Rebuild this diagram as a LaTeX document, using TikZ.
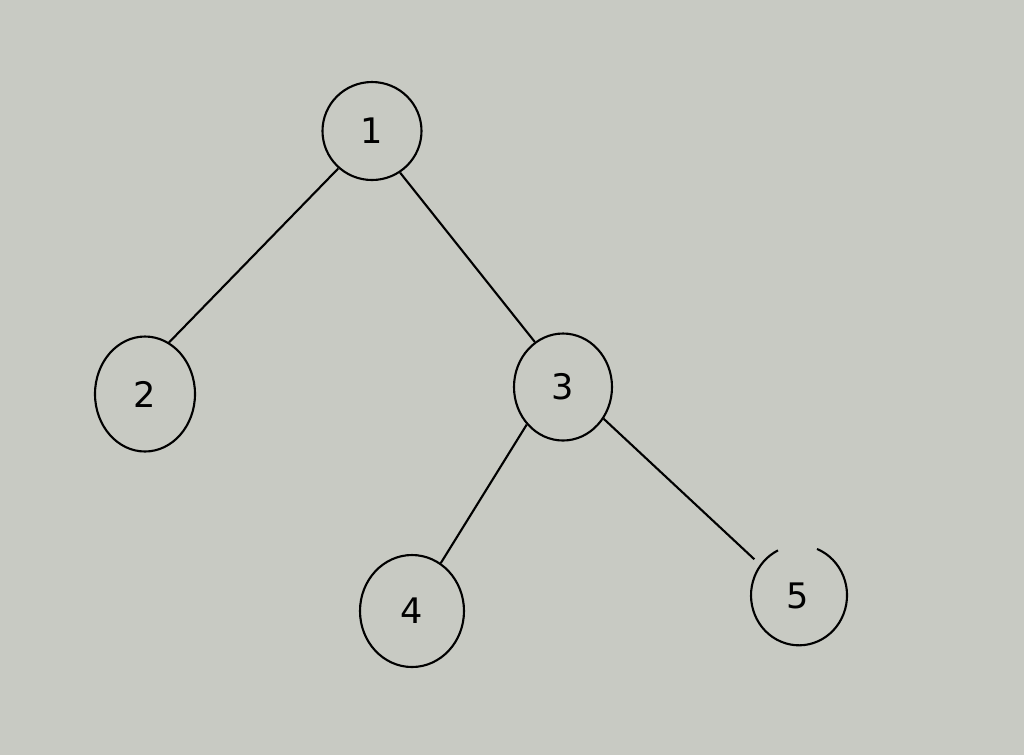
\documentclass[tikz,border=0pt]{standalone}
\usepackage{fontspec}
\setmainfont{DejaVu Sans}
\usetikzlibrary{shapes.geometric}
\definecolor{screen}{RGB}{200,202,195}

\begin{document}
\begin{tikzpicture}[x=1cm, y=1cm, line width=0.6pt,
    tnode/.style={ellipse, inner sep=0pt, minimum width=0.99cm, minimum height=0.98cm, font=\fontsize{10}{12}\selectfont}]
    \fill[screen] (0,0) rectangle (10.24,-7.55);
    \useasboundingbox (0,0) rectangle (10.24,-7.55);
    \node[tnode, draw] (n1) at (3.72,-1.31) {1};
    \node[tnode, draw, minimum width=1.00cm, minimum height=1.15cm] (n2) at (1.45,-3.94) {2};
    \node[tnode, draw, minimum width=0.98cm, minimum height=1.07cm] (n3) at (5.63,-3.87) {3};
    \node[tnode, draw, minimum width=1.04cm, minimum height=1.12cm] (n4) at (4.12,-6.11) {4};
    \node[tnode, minimum width=0.96cm, minimum height=1.00cm] (n5) at (7.98,-5.96) {5};
    % node 5 is open at the top
    \draw (n5.68) arc[start angle=68, end angle=-244, x radius=0.48cm, y radius=0.50cm];
    \coordinate (e5) at ([shift={(-0.06,0.04)}]n5.139);
    \draw (n1.228) -- (n2.65);
    \draw (n1.304) -- (n3.122);
    \draw (n3.226) -- (n4.59);
    \draw (n3.322) -- (e5);
\end{tikzpicture}
\end{document}
